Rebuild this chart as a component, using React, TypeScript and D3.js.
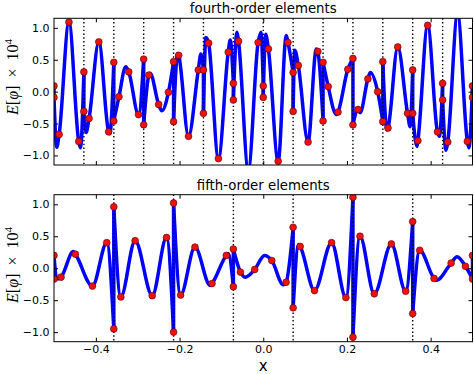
import * as d3 from "d3"
import React, { useEffect, useRef } from "react"

// x ticks, y ticks shared by both panels
const xTicks = [-0.4, -0.2, 0.0, 0.2, 0.4]
const yTicks = [-1.0, -0.5, 0.0, 0.5, 1.0]

// element boundaries (dotted lines)
const topBounds = [-0.4286, -0.3571, -0.2857, -0.2143, -0.1429, -0.0714, 0, 0.0714, 0.1429, 0.2143, 0.2857, 0.3571, 0.4286]
const bottomBounds = [-0.3571, -0.2143, -0.0714, 0.0714, 0.2143, 0.3571]

// fourth-order elements: [x, value, node?]
const topElements = [
  [[-0.5, -0.09, 1], [-0.4935, -0.87], [-0.4877, -0.67, 1], [-0.4643, 1.09, 1], [-0.4409, -0.78, 1], [-0.4366, -0.88], [-0.4286, 0.31, 1]],
  [[-0.4286, -0.31, 1], [-0.4234, -0.64], [-0.4162, -0.42, 1], [-0.3929, 0.78, 1], [-0.3695, -0.63, 1], [-0.3665, -0.66], [-0.3571, 0.46, 1]],
  [[-0.3571, -0.46, 1], [-0.3448, -0.08, 1], [-0.3285, 0.39], [-0.3214, 0.31, 1], [-0.298, -0.36, 1], [-0.2857, 0.51, 1]],
  [[-0.2857, -0.52, 1], [-0.2734, 0.26, 1], [-0.2703, 0.29], [-0.25, -0.2, 1], [-0.2423, -0.3], [-0.2266, -0.01, 1], [-0.2143, 0.47, 1]],
  [[-0.2143, -0.47, 1], [-0.2045, 0.6], [-0.202, 0.57, 1], [-0.1786, -0.7, 1], [-0.1552, 0.34, 1], [-0.149, 0.59], [-0.1429, 0.34, 1]],
  [[-0.1429, -0.34, 1], [-0.1371, 0.85], [-0.1305, 0.76, 1], [-0.1071, -1.05, 1], [-0.0837, 0.62, 1], [-0.0789, 0.81], [-0.0714, 0.13, 1]],
  [[-0.0714, -0.13, 1], [-0.0629, 0.93], [-0.0591, 0.79, 1], [-0.0357, -1.22, 1], [-0.0123, 0.77, 1], [-0.0055, 0.93], [0, 0.09, 1]],
  [[0, -0.09, 1], [0.0057, 0.9], [0.0123, 0.67, 1], [0.0357, -1.09, 1], [0.055, 0.88], [0.0591, 0.77, 1], [0.0714, 0.3, 1]],
  [[0.0714, -0.31, 1], [0.0753, 0.65], [0.0838, 0.41, 1], [0.1071, -0.79, 1], [0.1268, 0.67], [0.1305, 0.63, 1], [0.1429, -0.46, 1]],
  [[0.1429, 0.46, 1], [0.1552, 0.08, 1], [0.1746, -0.36], [0.1786, -0.32, 1], [0.202, 0.35, 1], [0.2143, 0.52, 1]],
  [[0.2143, -0.52, 1], [0.2266, -0.28, 1], [0.2315, -0.33], [0.25, 0.2, 1], [0.256, 0.3], [0.2734, 0.0, 1], [0.2857, -0.47, 1]],
  [[0.2857, 0.47, 1], [0.2955, -0.6], [0.2981, -0.57, 1], [0.3214, 0.7, 1], [0.3448, -0.34, 1], [0.351, -0.55], [0.3571, 0.34, 1]],
  [[0.3571, -0.34, 1], [0.3672, -0.86], [0.3695, -0.77, 1], [0.3929, 1.04, 1], [0.4162, -0.63, 1], [0.421, -0.7], [0.4286, 0.13, 1]],
  [[0.4286, -0.13, 1], [0.4366, -0.92], [0.4409, -0.79, 1], [0.4643, 1.22, 1], [0.4877, -0.78, 1], [0.4916, -0.88], [0.5, 0.09, 1]],
]
const topEdges = [[-0.5, 0.09], [0.5, -0.09]]

// fifth-order elements
const bottomElements = [
  [[-0.5, 0.2, 1], [-0.4935, -0.17], [-0.4832, -0.14, 1], [-0.4538, 0.26], [-0.4489, 0.22, 1], [-0.4082, -0.28, 1], [-0.3739, 0.4, 1], [-0.3571, -0.95, 1]],
  [[-0.3571, 0.96, 1], [-0.3403, -0.45, 1], [-0.3061, 0.43, 1], [-0.2653, -0.43, 1], [-0.2311, 0.48, 1], [-0.2143, -1.0, 1]],
  [[-0.2143, 1.02, 1], [-0.1975, -0.42, 1], [-0.1632, 0.33, 1], [-0.1268, -0.27], [-0.1225, -0.24, 1], [-0.0882, 0.2, 1], [-0.0837, 0.23], [-0.0714, -0.29, 1]],
  [[-0.0714, 0.3, 1], [-0.0546, -0.06, 1], [-0.0431, -0.14], [-0.0204, -0.02, 1], [0.003, 0.2], [0.0204, 0.12, 1], [0.0478, -0.26], [0.0546, -0.22, 1], [0.0714, 0.64, 1]],
  [[0.0714, -0.62, 1], [0.0847, 0.37], [0.0882, 0.34, 1], [0.1225, -0.35, 1], [0.1632, 0.4, 1], [0.1975, -0.46, 1], [0.2143, 1.11, 1]],
  [[0.2143, -1.08, 1], [0.2311, 0.5, 1], [0.2653, -0.4, 1], [0.3061, 0.38, 1], [0.3403, -0.36, 1], [0.3571, 0.73, 1]],
  [[0.3571, -0.71, 1], [0.3739, 0.28, 1], [0.4082, -0.16, 1], [0.4139, -0.19], [0.4489, 0.08, 1], [0.463, 0.18], [0.4832, 0.03, 1], [0.5, -0.17, 1]],
]
const bottomEdges = [[-0.5, -0.17], [0.5, 0.2]]

const panels = [
  { title: "fourth-order elements", top: 18.3, bottom: 165, elements: topElements, bounds: topBounds, edges: topEdges, labelY: 77, xLabels: false },
  { title: "fifth-order elements", top: 194.7, bottom: 341.7, elements: bottomElements, bounds: bottomBounds, edges: bottomEdges, labelY: 265, xLabels: true },
]

const left = 54, right = 472.5
const font = "DejaVu Sans"

export default function App() {
  const ref = useRef<SVGSVGElement>(null)

  useEffect(() => {
    const svg = d3.select(ref.current)
    svg.selectAll("*").remove()

    const x = d3.scaleLinear().domain([-0.5, 0.5]).range([left, right])
    const fmt = d3.format(".1f")

    panels.forEach((p, i) => {
      const y = d3.scaleLinear().domain([-1.15, 1.15]).range([p.bottom, p.top])
      const g = svg.append("g")

      svg.append("clipPath").attr("id", "clip" + i)
        .append("rect")
        .attr("x", left).attr("y", p.top)
        .attr("width", right - left).attr("height", p.bottom - p.top)

      const plot = g.append("g").attr("clip-path", `url(#clip${i})`)

      const curve = d3.line<number[]>()
        .x(d => x(d[0])).y(d => y(d[1]))
        .curve(d3.curveMonotoneX)
      const straight = d3.line<number[]>().x(d => x(d[0])).y(d => y(d[1]))

      const blue = (d: string | null) => plot.append("path")
        .attr("d", d)
        .attr("fill", "none")
        .attr("stroke", "#0000ff")
        .attr("stroke-width", 3.5)
        .attr("stroke-linecap", "round")
        .attr("stroke-linejoin", "round")

      //curve inside each element
      p.elements.forEach(el => blue(curve(el)))
      //jumps between neighbouring elements
      p.elements.slice(1).forEach((el, k) => {
        const prev = p.elements[k]
        blue(straight([prev[prev.length - 1], el[0]]))
      })
      //jumps at the two domain ends
      const first = p.elements[0][0]
      const lastEl = p.elements[p.elements.length - 1]
      blue(straight([p.edges[0], first]))
      blue(straight([lastEl[lastEl.length - 1], p.edges[1]]))

      //element boundaries
      plot.selectAll("line.bound")
        .data(p.bounds)
        .enter()
        .append("line")
        .attr("class", "bound")
        .attr("x1", d => x(d)).attr("x2", d => x(d))
        .attr("y1", p.top).attr("y2", p.bottom)
        .attr("stroke", "#000")
        .attr("stroke-width", 1.4)
        .attr("stroke-dasharray", "1.4,2.4")

      //nodes
      const dots = p.elements.flat().filter(d => d[2] === 1).concat(p.edges)
      plot.selectAll("circle")
        .data(dots)
        .enter()
        .append("circle")
        .attr("cx", d => x(d[0]))
        .attr("cy", d => y(d[1]))
        .attr("r", 3.4)
        .attr("fill", "#ee1111")
        .attr("stroke", "#5a0000")
        .attr("stroke-width", 0.6)

      //axes, ticks inward on all sides
      const styleAxis = (a: any) => {
        a.select(".domain").remove()
        a.selectAll("line").attr("stroke", "#000")
        a.selectAll("text").attr("font-family", font).attr("font-size", 11).attr("fill", "#000")
      }
      g.append("g")
        .attr("transform", `translate(0,${p.bottom})`)
        .call(d3.axisBottom(x).tickValues(xTicks).tickSize(-4).tickPadding(4)
          .tickFormat(d => p.xLabels ? fmt(d as number) : ""))
        .call(styleAxis)
      g.append("g")
        .attr("transform", `translate(0,${p.top})`)
        .call(d3.axisTop(x).tickValues(xTicks).tickSize(-4).tickFormat(() => ""))
        .call(styleAxis)
      g.append("g")
        .attr("transform", `translate(${left},0)`)
        .call(d3.axisLeft(y).tickValues(yTicks).tickSize(-4).tickPadding(4.5).tickFormat(d => fmt(d as number)))
        .call(styleAxis)
      g.append("g")
        .attr("transform", `translate(${right},0)`)
        .call(d3.axisRight(y).tickValues(yTicks).tickSize(-4).tickFormat(() => ""))
        .call(styleAxis)

      g.append("rect")
        .attr("x", left).attr("y", p.top)
        .attr("width", right - left).attr("height", p.bottom - p.top)
        .attr("fill", "none")
        .attr("stroke", "#000")
        .attr("stroke-width", 1)

      g.append("text")
        .attr("x", (left + right) / 2)
        .attr("y", p.top - 5)
        .attr("text-anchor", "middle")
        .attr("font-family", font)
        .attr("font-size", 13.3)
        .text(p.title)

      //E[phi] x 10^4
      const lab = g.append("text")
        .attr("transform", `translate(18,${p.labelY}) rotate(-90)`)
        .attr("text-anchor", "middle")
        .attr("font-family", "Liberation Serif")
        .attr("font-size", 16)
      lab.append("tspan").attr("font-style", "italic").text("E")
      lab.append("tspan").text("[")
      lab.append("tspan").attr("font-style", "italic").text("φ")
      lab.append("tspan").text("]\u2002×\u200210")
      lab.append("tspan").attr("font-size", 11).attr("dy", -6.5).text("4")
    })

    svg.append("text")
      .attr("x", (left + right) / 2)
      .attr("y", 371)
      .attr("text-anchor", "middle")
      .attr("font-family", font)
      .attr("font-size", 15)
      .text("x")
  }, [])

  return (
    <svg
      ref={ref}
      width={474}
      height={374}
      style={{ position: "absolute", left: 0, top: 0, background: "#fff" }}
    />
  )
}
